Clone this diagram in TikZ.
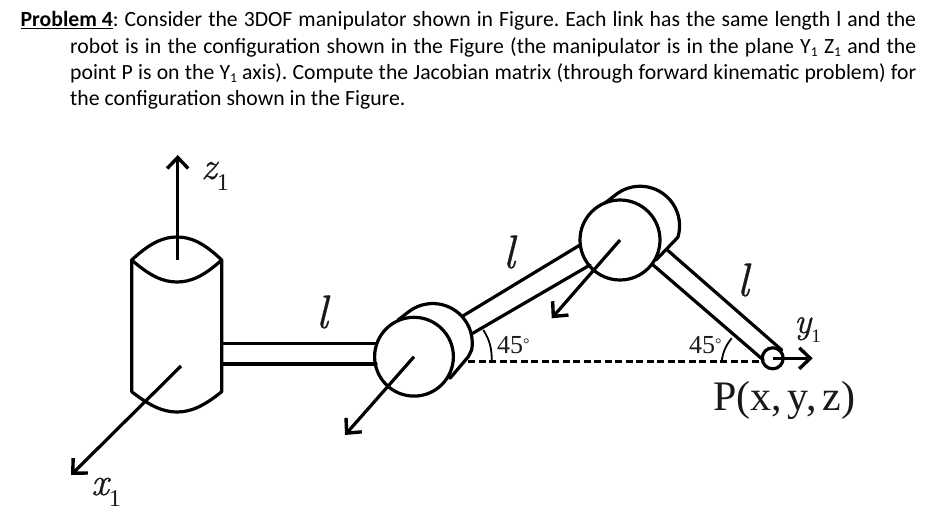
\documentclass[tikz,border=0pt]{standalone}
\usepackage{fontspec}
\setmainfont{Carlito}
\newfontfamily\figfont{Liberation Serif}
\newfontfamily\figlm{Latin Modern Roman}[ItalicFeatures={FakeBold=0.7}]
\newcommand{\figit}{\figlm\itshape\selectfont}
\usetikzlibrary{arrows.meta}
\tikzset{
  line/.style={line width=3.2pt,line cap=round,line join=round},
  thinarc/.style={line width=1.8pt},
  axis/.style={line width=3.2pt,-{Straight Barb[length=11pt,width=21pt,line width=3.4pt]}},
  textline/.style={anchor=base west,inner sep=0pt,font=\fontsize{21.7}{26}\selectfont\frenchspacing},
  figlabel/.style={inner sep=0pt,text=black!90},
  dashline/.style={line width=3.5pt,dash pattern=on 7pt off 3.5pt}
}
\newcommand{\subone}{\raisebox{-.16em}{\fontsize{13.5}{13.5}\selectfont 1}}
\newcommand{\figsub}[2]{\raisebox{#1}{\figfont\upshape\fontsize{#2}{#2}\selectfont 1}}
\begin{document}
\begin{tikzpicture}[x=1pt,y=-1pt]
\useasboundingbox (0,0) rectangle (940,519);
\fill[white] (0,0) rectangle (940,519);
% text
\node[textline] (t1) at (20.5,26.5) {\makebox[895.5pt][s]{\underline{\textbf{Problem 4}}: Consider the 3DOF manipulator shown in Figure. Each link has the same length l and the}};
\node[textline] (t2) at (70,53.3) {\makebox[846pt][s]{robot is in the configuration shown in the Figure (the manipulator is in the plane Y\subone{} Z\subone{} and the}};
\node[textline] (t3) at (70,79.2) {\makebox[846pt][s]{point P is on the Y\subone{} axis). Compute the Jacobian matrix (through forward kinematic problem) for}};
\node[textline] (t4) at (70,105.1) {the configuration shown in the Figure.};
% base cylinder
\coordinate (cylTL) at (131.7,260);
\coordinate (cylTR) at (221.7,260);
\coordinate (cylBL) at (131.7,391.7);
\coordinate (cylBR) at (221.7,391.7);
\draw[line] (cylBL) -- (cylTL) .. controls (150,243) and (163,237) .. (177,237) .. controls (191,237) and (204,243) .. (cylTR) -- (cylBR)
  .. controls (204,406) and (191,412) .. (177,412) .. controls (163,412) and (150,406) .. (cylBL);
\draw[line] (cylTL) .. controls (150,276) and (163,282) .. (177,282) .. controls (191,282) and (204,276) .. (cylTR);
% axes from base
\coordinate (zbase) at (177.7,260);
\coordinate (ztip) at (177.7,155);
\draw[axis] (zbase) -- (ztip);
\coordinate (xbase) at (181,366);
\coordinate (xtip) at (71,475);
\draw[axis] (xbase) -- (xtip);
% link 1
\coordinate (j1) at (414,356.7);
\draw[line] (222,343.3) -- (375.5,343.3);
\draw[line] (222,364) -- (376,364);
% joint 1
\draw[line] (j1) circle (39.4);
\draw[line] (398,320) -- (409,311.5) arc[start angle=-127,end angle=10,radius=39.5] -- (468.3,356.7) -- (450,378.3);
\coordinate (a2) at (345,435);
\draw[axis] (j1) -- (a2);
% link 2
\coordinate (j2) at (620,240);
\draw[line] (463.3,315.7) -- (580,245);
\draw[line] (472.7,333.3) -- (590,265);
% joint 2
\draw[line] (j2) circle (40);
\draw[line] (605,203) -- (618,193) arc[start angle=-124,end angle=17,radius=39.5] -- (656,260);
\coordinate (a3) at (551.7,318.3);
\draw[axis] (j2) -- (a3);
% link 3
\coordinate (p) at (772.7,358.3);
\draw[line] (667.3,250) -- (781.7,350);
\draw[line] (652.3,264.3) -- (763.3,360);
\draw[line] (p) circle (10.5);
\coordinate (ytip) at (812.7,358.3);
\draw[axis] (p) -- (ytip);
% dashed line
\coordinate (d0) at (468,361.3);
\coordinate (d1) at (762,361.3);
\draw[dashline] (d0) -- (d1);
% angle arcs
\draw[thinarc] (483.3,330) .. controls (490,340) and (492,350) .. (491.7,361);
\draw[thinarc] (731.7,338.3) .. controls (726,345) and (723,352) .. (721.7,361);
% figure labels
\node[figlabel,anchor=base west] (lz) at (201,179) {\fontsize{39}{39}\figit z\figsub{-.3em}{24}};
\node[figlabel,anchor=base west] (lx) at (91,495) {\fontsize{39}{39}\figit x\figsub{-.3em}{24}};
\node[figlabel,anchor=base] (ll1) at (322,328) {\fontsize{47}{47}\figit l};
\node[figlabel,anchor=base] (ll2) at (509,268) {\fontsize{47}{47}\figit l};
\node[figlabel,anchor=base] (ll3) at (743,296) {\fontsize{47}{47}\figit l};
\node[figlabel,anchor=base west] (ly) at (794,333) {\fontsize{36}{36}\figit y\figsub{-.25em}{19}};
\node[figlabel,anchor=base west] (a45l) at (497,353) {\figfont\fontsize{26}{26}\selectfont 45\raisebox{.12em}{\fontsize{16}{16}\selectfont °}};
\node[figlabel,anchor=base west] (a45r) at (689,353) {\figfont\fontsize{26}{26}\selectfont 45\raisebox{.12em}{\fontsize{16}{16}\selectfont °}};
\node[figlabel,anchor=base west] (pl) at (713,410.7) {\figfont\fontsize{42}{42}\selectfont P(x,\hspace{.14em}y,\hspace{.14em}z)};
\end{tikzpicture}
\end{document}
